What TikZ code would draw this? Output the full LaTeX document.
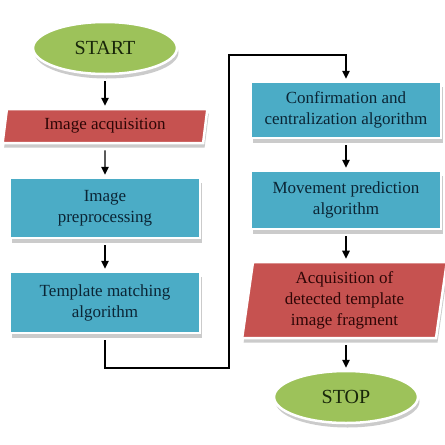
\documentclass[tikz,border=0pt]{standalone}
\usepackage{fontspec}
\setmainfont{Liberation Serif}
\usetikzlibrary{shapes.geometric,shadows,arrows.meta}
\definecolor{grn}{HTML}{9DC25A}
\definecolor{grntxt}{HTML}{18260A}
\definecolor{blu}{HTML}{4BACC6}
\definecolor{blutxt}{HTML}{0B2535}
\definecolor{rd}{HTML}{C65250}
\definecolor{rdtxt}{HTML}{2E0606}
\begin{document}
\begin{tikzpicture}[x=1pt,y=-1pt,
  base/.style={draw=white,line width=2.5pt,
    drop shadow={shadow xshift=1.5pt,shadow yshift=-4.5pt,fill=black!40,opacity=0.5},
    font=\fontsize{17}{21}\selectfont, align=center, inner sep=0pt},
  term/.style={base, ellipse, fill=grn, text=grntxt, minimum width=144pt, minimum height=52pt, font=\fontsize{20}{24}\selectfont},
  proc/.style={base, rectangle, fill=blu, text=blutxt, minimum width=190pt},
  io/.style={base, trapezium, trapezium stretches=true, fill=rd, text=rdtxt, minimum width=205pt},
  arr/.style={-{Triangle[length=8pt,width=7.5pt]}, line width=1.1pt, black, shorten <=6pt, shorten >=2pt}]
\useasboundingbox (0,0) rectangle (445,445);
\fill[white] (0,0) rectangle (445,445);

\node[term] (start) at (105,48) {START};
\node[io, trapezium left angle=80, trapezium right angle=100, minimum height=34pt] (acq) at (105,126) {Image acquisition};
\node[proc, minimum height=60pt] (pre) at (105,208) {Image\\preprocessing};
\node[proc, minimum height=61pt] (tmpl) at (105,302.5) {Template matching\\algorithm};

\node[proc, minimum height=56pt] (conf) at (346,110) {Confirmation and\\centralization algorithm};
\node[proc, minimum height=58pt] (move) at (346,200) {Movement prediction\\algorithm};
\node[io, trapezium left angle=83, trapezium right angle=97, minimum height=76pt] (acq2) at (344.5,300) {Acquisition of\\detected template\\image fragment};
\node[term] (stop) at (346,397) {STOP};

\coordinate (c1) at (105,368);
\coordinate (c2) at (229,368);
\coordinate (c3) at (229,55);
\coordinate (c4) at (346,55);

\draw[arr] (start) -- (acq);
\draw[arr] (acq) -- (pre);
\draw[arr] (pre) -- (tmpl);
\draw[arr] (tmpl.south) -- (c1) -- (c2) -- (c3) -- (c4) -- (conf.north);
\draw[arr] (conf) -- (move);
\draw[arr] (move) -- (acq2.north -| move);
\draw[arr] (acq2.south -| stop) -- (stop);
\end{tikzpicture}
\end{document}
